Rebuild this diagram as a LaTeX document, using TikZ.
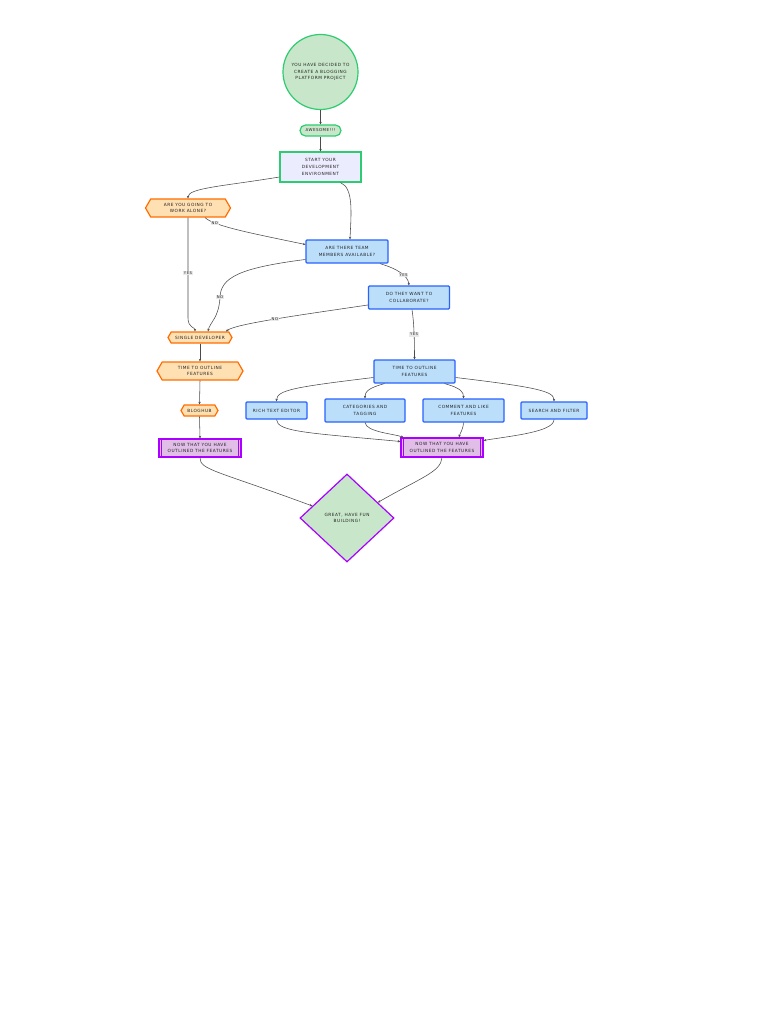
\documentclass[tikz,border=0pt]{standalone}
\usepackage{fontspec}
\setmainfont{DejaVu Sans}[LetterSpace=12]
\usetikzlibrary{shapes.geometric,shapes.misc,shapes.symbols,arrows.meta,calc}
\definecolor{gfill}{HTML}{C8E6C9}
\definecolor{gline}{HTML}{2ECC71}
\definecolor{ofill}{HTML}{FFE0B2}
\definecolor{oline}{HTML}{FF6D00}
\definecolor{bfill}{HTML}{BBDEFB}
\definecolor{bline}{HTML}{2962FF}
\definecolor{pfill}{HTML}{E1BEE7}
\definecolor{pline}{HTML}{AA00FF}
\definecolor{lav}{HTML}{ECECFF}
\definecolor{edgec}{HTML}{4A4A4A}
\definecolor{lblfill}{HTML}{E8E8E8}
\definecolor{txt}{HTML}{222222}
\begin{document}
\begin{tikzpicture}[x=1pt,y=-1pt,
  base/.style={inner sep=0pt,align=center,text=txt,font=\fontsize{4.3}{6.8}\selectfont,line width=1.2pt},
  gcirc/.style={base,circle,fill=gfill,draw=gline,minimum size=75pt},
  gpill/.style={base,rounded rectangle,fill=gfill,draw=gline},
  lavbox/.style={base,rectangle,fill=lav,draw=gline},
  hexo/.style={base,signal,signal to=east and west,signal pointer angle=120,fill=ofill,draw=oline},
  bbox/.style={base,rectangle,rounded corners=1pt,fill=bfill,draw=bline},
  pbox/.style={base,rectangle,fill=pfill,draw=pline},
  gdia/.style={base,diamond,fill=gfill,draw=pline},
  arr/.style={draw=edgec,line width=0.55pt,-{Stealth[length=2.6pt,width=2.4pt]}},
  lbl/.style={fill=lblfill,inner sep=0.8pt,text=txt,font=\fontsize{3.8}{4.5}\selectfont}
]
\useasboundingbox[fill=white] (0,0) rectangle (768,1024);

% nodes
\node[gcirc] (c) at (320.5,72) {YOU HAVE DECIDED TO\\CREATE A BLOGGING\\PLATFORM PROJECT};
\node[gpill,minimum width=41pt,minimum height=11pt] (aw) at (320.5,130.5) {\fontsize{4}{5}\selectfont AWESOME!!!};
\node[lavbox,minimum width=81pt,minimum height=30pt] (st) at (320.5,167) {START YOUR\\DEVELOPMENT\\ENVIRONMENT};
\node[hexo,minimum width=85pt,minimum height=18pt] (wa) at (188,208) {ARE YOU GOING TO\\WORK ALONE?};
\node[bbox,minimum width=82pt,minimum height=23pt] (tm) at (347,251.5) {ARE THERE TEAM\\MEMBERS AVAILABLE?};
\node[bbox,minimum width=81pt,minimum height=23pt] (co) at (409,297.5) {DO THEY WANT TO\\COLLABORATE?};
\node[hexo,minimum width=64pt,minimum height=11pt] (sd) at (200,337.5) {SINGLE DEVELOPER};
\node[hexo,minimum width=86pt,minimum height=18pt] (tl) at (200,371) {TIME TO OUTLINE\\FEATURES};
\node[hexo,minimum width=37pt,minimum height=11pt] (bh) at (199.5,410.5) {BLOGHUB};
\node[pbox,minimum width=82pt,minimum height=18pt] (nl) at (200,448) {NOW THAT YOU HAVE\\OUTLINED THE FEATURES};
\node[bbox,minimum width=81pt,minimum height=23pt] (tr) at (414.5,371.5) {TIME TO OUTLINE\\FEATURES};
\node[bbox,minimum width=61pt,minimum height=17pt] (f1) at (276.5,410.5) {RICH TEXT EDITOR};
\node[bbox,minimum width=80pt,minimum height=23pt] (f2) at (365,410.5) {CATEGORIES AND\\TAGGING};
\node[bbox,minimum width=81pt,minimum height=23pt] (f3) at (463.5,410.5) {COMMENT AND LIKE\\FEATURES};
\node[bbox,minimum width=66pt,minimum height=17pt] (f4) at (554,410.5) {SEARCH AND FILTER};
\node[pbox,minimum width=82pt,minimum height=19pt] (nr) at (442,447.5) {NOW THAT YOU HAVE\\OUTLINED THE FEATURES};
\node[gdia,minimum width=94pt,minimum height=88pt] (dm) at (347,518) {GREAT, HAVE FUN\\BUILDING!};

% subroutine inner bars
\foreach \n in {nl,nr}{
  \draw[draw=pline,line width=1.1pt] ([xshift=3.5pt]\n.north west) -- ([xshift=3.5pt]\n.south west);
  \draw[draw=pline,line width=1.1pt] ([xshift=-3.5pt]\n.north east) -- ([xshift=-3.5pt]\n.south east);
}

% edges
\draw[arr] (c.south) -- (aw.north);
\draw[arr] (aw.south) -- (st.north);
\draw[arr] ([yshift=-10pt]st.west) .. controls (225,186) and (188,188) .. (wa.north);
\draw[arr] ([xshift=20pt]st.south) .. controls (354,188) and (351,215) .. ([xshift=3pt]tm.north);
\draw[arr] ([xshift=17pt]wa.south) .. controls (214,226) and (250,233) .. ([yshift=7pt]tm.west)
  node[lbl,pos=0.22] {NO};
\draw[arr] (wa.south) -- (188,318) node[lbl,pos=0.55] {YES} .. controls (188,328) and (195,327) .. ([xshift=-5pt]sd.north);
\draw[arr] ([yshift=-8pt]tm.west) .. controls (238,268) and (221,278) .. (220,297)
  node[lbl] {NO} .. controls (219,318) and (210,322) .. ([xshift=8pt]sd.north);
\draw[arr] ([xshift=33pt]tm.south) .. controls (398,269) and (408,276) .. (co.north)
  node[lbl,pos=0.6] {YES};
\draw[arr] ([yshift=-7.5pt]co.west) .. controls (300,315) and (235,324) .. ([xshift=26pt]sd.north)
  node[lbl,pos=0.5] {NO};
\draw[arr] ([xshift=3pt]co.south) .. controls (414,322) and (414.5,340) .. (tr.north)
  node[lbl,pos=0.55] {YES};
\draw[arr] (sd.south) -- (tl.north);
\draw[arr] (tl.south) -- (bh.north);
\draw[arr] (bh.south) -- (nl.north);
\draw[arr] ([yshift=-6pt]tr.west) .. controls (295,387) and (277,390) .. (f1.north);
\draw[arr] ([xshift=-30pt]tr.south) .. controls (368,388) and (365,392) .. (f2.north);
\draw[arr] ([xshift=30pt]tr.south) .. controls (461,388) and (463.5,392) .. (f3.north);
\draw[arr] ([yshift=-6pt]tr.east) .. controls (535,387) and (554,391) .. (f4.north);
\draw[arr] (f1.south) .. controls (277,432) and (310,433) .. ([yshift=6pt]nr.west);
\draw[arr] (f2.south) .. controls (366,432) and (395,434) .. ([xshift=3pt]nr.north west);
\draw[arr] (f3.south) .. controls (463,430) and (460,433) .. ([xshift=17pt]nr.north);
\draw[arr] (f4.south) .. controls (554,432) and (510,436) .. ([yshift=7pt]nr.east);
\draw[arr] (nl.south) .. controls (200,470) and (215,470) .. ($(dm.west)!0.27!(dm.north)$);
\draw[arr] (nr.south) .. controls (441,472) and (420,478) .. ($(dm.east)!0.35!(dm.north)$);
\end{tikzpicture}
\end{document}
